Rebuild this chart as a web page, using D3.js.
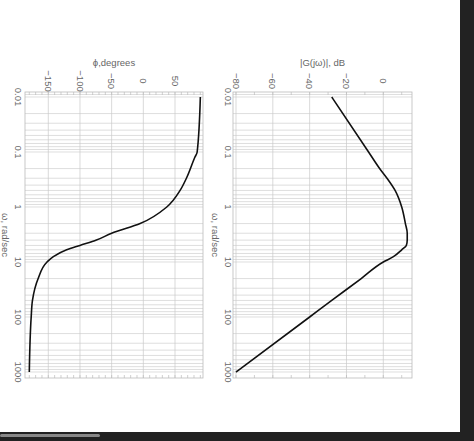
<!DOCTYPE html>
<html><head><meta charset="utf-8">
<script src="https://cdn.jsdelivr.net/npm/d3@7"></script>
<style>body{margin:0;background:#fff}text{font-family:"Liberation Sans",Arial,sans-serif;fill:#666}</style>
</head><body><svg id="c" width="474" height="441"></svg>
<script>
const freqs = [0.01,0.1,0.2,0.3,0.5,1,2,3,4,5,6,8,10,20,50,100,1000];
const magDb = [-28,-8,-2,2,6.4,10,12,13,13,12.5,10,5.5,0,-12,-28,-40,-80];
const phFreqs = [0.01,0.1,0.127,0.3,0.5,1,2,3,4,5,6,8,10,20,50,100,1000];
const phaseDeg = [90,85,81,68,58,37,-5,-50,-74,-100,-121,-142,-152,-166,-175,-177,-180];
const freqTicks = [0.01,0.1,1,10,100,1000];
const freqLabels = ["0.01","0.1","1","10","100","1000"];
const phaseTicks = [-150,-100,-50,0,50];
const magTicks = [-80,-60,-40,-20,0];

const svg = d3.select("#c");
const yTop=92, yBot=378;
const y = d3.scaleLog().domain([0.01,1000]).range([97,372]);
const minor=[];
for(let e=-3;e<=3;e++)for(let k=1;k<10;k++){const v=k*Math.pow(10,e);const p=y(v);if(p>=yTop&&p<=yBot)minor.push(v);}

function panel(x0,x1,xs,vticks,fr,vals,title,freqLabelX){
  const g=svg.append("g");
  g.selectAll(".m").data(minor).enter().append("line")
   .attr("x1",x0).attr("x2",x1).attr("y1",d=>y(d)).attr("y2",d=>y(d))
   .attr("stroke","#d0d0d0").attr("stroke-width",0.7);
  g.selectAll(".v").data(vticks).enter().append("line")
   .attr("x1",d=>xs(d)).attr("x2",d=>xs(d)).attr("y1",yTop).attr("y2",yBot)
   .attr("stroke","#c8c8c8").attr("stroke-width",0.7);
  const lo=Math.ceil(xs.invert(x0)/10)*10, hi=xs.invert(x1);
  d3.range(lo,hi,10).forEach(v=>{
    g.append("line").attr("x1",xs(v)).attr("x2",xs(v)).attr("y1",yTop).attr("y2",yTop+3).attr("stroke","#bbb").attr("stroke-width",0.7);
    g.append("line").attr("x1",xs(v)).attr("x2",xs(v)).attr("y1",yBot-3).attr("y2",yBot).attr("stroke","#bbb").attr("stroke-width",0.7);
  });
  g.append("rect").attr("x",x0).attr("y",yTop).attr("width",x1-x0).attr("height",yBot-yTop)
   .attr("fill","none").attr("stroke","#bbb").attr("stroke-width",0.8);
  vticks.forEach(v=>{
    g.append("text").attr("transform",`translate(${xs(v)},81) rotate(90)`)
     .attr("text-anchor","middle").attr("dy","0.35em").attr("font-size",9.5)
     .text(v<0?"\u2212"+Math.abs(v):v);
  });
  freqTicks.forEach((v,i)=>{
    g.append("text").attr("transform",`translate(${freqLabelX},${y(v)}) rotate(90)`)
     .attr("text-anchor","middle").attr("dy","0.35em").attr("font-size",9.5).text(freqLabels[i]);
  });
  g.append("text").attr("x",(x0+x1)/2).attr("y",66).attr("text-anchor","middle").attr("font-size",9.5).text(title);
  g.append("text").attr("transform",`translate(${freqLabelX-13},235) rotate(90)`)
   .attr("text-anchor","middle").attr("dy","0.35em").attr("font-size",9.5).text("\u03c9, rad/sec");
  const line=d3.line().x(d=>xs(d[1])).y(d=>y(d[0])).curve(d3.curveMonotoneY);
  g.append("path").datum(fr.map((f,i)=>[f,vals[i]])).attr("d",line)
   .attr("fill","none").attr("stroke","#111").attr("stroke-width",1.6);
}
const xPh=d3.scaleLinear().domain([-150,50]).range([48.3,175]);
const xMag=d3.scaleLinear().domain([-80,0]).range([236,383.3]);
panel(25,203,xPh,phaseTicks,phFreqs,phaseDeg,"\u03d5,degrees",18);
panel(233,412,xMag,magTicks,freqs,magDb,"|G(j\u03c9)|, dB",228);

svg.append("rect").attr("x",460).attr("y",0).attr("width",14).attr("height",441).attr("fill","#222");
svg.append("rect").attr("x",0).attr("y",432).attr("width",474).attr("height",9).attr("fill","#222");
svg.append("rect").attr("x",0).attr("y",434).attr("width",100).attr("height",3).attr("rx",1.5).attr("fill","#888");
</script></body></html>
